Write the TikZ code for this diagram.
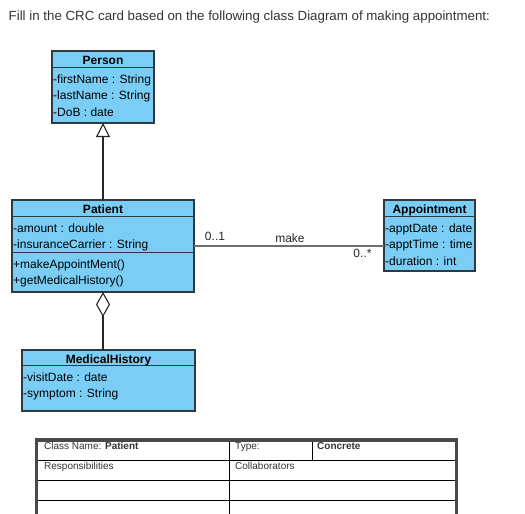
\documentclass[tikz,border=0pt]{standalone}
\usepackage{fontspec}
\setmainfont{Liberation Sans}
\usetikzlibrary{arrows.meta,shadows}
\definecolor{clsfill}{RGB}{122,206,245}
\definecolor{clsdraw}{RGB}{48,56,64}
\definecolor{txt}{RGB}{51,51,51}
\definecolor{assoc}{RGB}{110,110,110}
\definecolor{tblborder}{RGB}{70,73,77}
\tikzset{
  cls/.style={draw=clsdraw, fill=clsfill, line width=1.1pt, inner sep=0pt, outer sep=0pt,
    drop shadow={shadow xshift=1.2pt, shadow yshift=-1.2pt, fill=black!40, opacity=0.6}},
  clsline/.style={draw=clsdraw, line width=1pt},
  ctitle/.style={anchor=base, inner sep=0pt, font=\fontsize{12}{14}\selectfont\bfseries, text=black},
  attr/.style={anchor=base west, inner sep=0pt, font=\fontsize{12}{14}\selectfont, text=black},
  conn/.style={draw=black!85, line width=1.1pt},
  assocline/.style={draw=assoc, line width=1.4pt},
  lbl/.style={anchor=base, inner sep=0pt, font=\fontsize{12}{14}\selectfont, text=black!85},
  tbltxt/.style={anchor=base west, inner sep=0pt, font=\fontsize{10}{12}\selectfont, text=txt},
  tblgrid/.style={draw=black, line width=0.9pt},
  tblframe/.style={draw=tblborder, line width=3.3pt}
}
\begin{document}
\begin{tikzpicture}[x=1pt,y=-1pt]
\useasboundingbox (0,0) rectangle (525,514);
\clip (0,0) rectangle (525,514);

% heading
\node[anchor=base west, inner sep=0pt, font=\fontsize{13.3}{15}\selectfont, text=txt] (heading) at (8.5,20.5)
  {Fill in the CRC card based on the following class Diagram of making appointment:};

% ---------- Person ----------
\node[cls, minimum width=102, minimum height=72] (person) at (103,87) {};
\draw[clsline] (person.west |- 0,67) -- (person.east |- 0,67);
\node[ctitle] (persontitle) at (103,64) {Person};
\node[attr] (pa1) at (53,83) {-firstName : String};
\node[attr] (pa2) at (53,99.5) {-lastName : String};
\node[attr] (pa3) at (53,116) {-DoB : date};

% ---------- Patient ----------
\node[cls, minimum width=182, minimum height=92] (patient) at (103,246) {};
\draw[clsline] (patient.west |- 0,216) -- (patient.east |- 0,216);
\draw[clsline] (patient.west |- 0,252) -- (patient.east |- 0,252);
\node[ctitle] (patienttitle) at (103,213) {Patient};
\node[attr] (pt1) at (13,232) {-amount : double};
\node[attr] (pt2) at (13,248.5) {-insuranceCarrier : String};
\node[attr] (pt3) at (13,268) {+makeAppointMent()};
\node[attr] (pt4) at (13,284.5) {+getMedicalHistory()};

% ---------- Appointment ----------
\node[cls, minimum width=91, minimum height=71] (appt) at (429.5,235.5) {};
\draw[clsline] (appt.west |- 0,216) -- (appt.east |- 0,216);
\node[ctitle] (appttitle) at (429.5,213) {Appointment};
\node[attr] (ap1) at (385,232) {-apptDate : date};
\node[attr] (ap2) at (385,248.5) {-apptTime : time};
\node[attr] (ap3) at (385,265) {-duration : int};

% ---------- MedicalHistory ----------
\node[cls, minimum width=173, minimum height=61] (mh) at (108.5,380.5) {};
\draw[clsline] (mh.west |- 0,365) -- (mh.east |- 0,365);
\node[ctitle] (mhtitle) at (108.5,363) {MedicalHistory};
\node[attr] (mh1) at (23,381) {-visitDate : date};
\node[attr] (mh2) at (23,397.5) {-symptom : String};

% ---------- connectors ----------
\draw[conn, -{Triangle[open, length=14pt, width=14pt, fill=white]}] (patient.north) -- (person.south);
\draw[conn, {Diamond[open, length=25pt, width=14pt, fill=white]}-] (patient.south) -- (patient.south |- mh.north);
\draw[assocline] (patient.east) -- (patient.east -| appt.west);
\node[lbl] (m1) at (215,240) {0..1};
\node[lbl] (mk) at (290,242) {make};
\node[lbl] (m2) at (362.5,257) {0..*};

% ---------- CRC card ----------
\coordinate (tl) at (36.5,440);
\coordinate (tr) at (456.5,440);
\draw[tblgrid] (36.5,460) -- (456.5,460);
\draw[tblgrid] (36.5,480) -- (456.5,480);
\draw[tblgrid] (36.5,500) -- (456.5,500);
\draw[tblgrid] (229,440) -- (229,530);
\draw[tblgrid] (312,440) -- (312,460);
\draw[tblframe] (36.5,530) -- (tl) -- (tr) -- (456.5,530);
\node[tbltxt] (cname) at (44,449) {Class Name: \textbf{Patient}};
\node[tbltxt] (ctype) at (235,449) {Type:};
\node[tbltxt] (cconc) at (317,449) {\textbf{Concrete}};
\node[tbltxt] (cresp) at (44,469) {Responsibilities};
\node[tbltxt] (ccoll) at (235,469) {Collaborators};
\end{tikzpicture}
\end{document}
